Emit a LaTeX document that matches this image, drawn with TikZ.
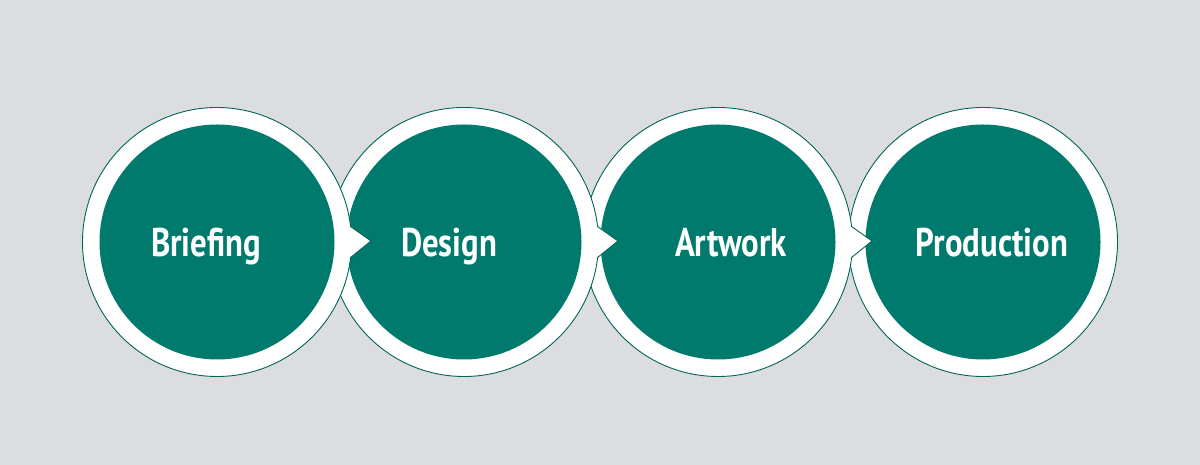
\documentclass[tikz,border=0pt]{standalone}
\usepackage{fontspec}
\usetikzlibrary{calc}
\newfontfamily\lbl[FakeStretch=0.82]{PT Sans}
\definecolor{bg}{RGB}{220,221,223}
\definecolor{teal}{RGB}{0,122,108}
\definecolor{tealline}{RGB}{0,100,88}
\begin{document}
\begin{tikzpicture}[x=1pt,y=1pt,
  ring/.style={fill=white,draw=tealline,line width=0.9pt},
  disk/.style={circle,fill=teal,draw=none,minimum size=235pt,inner sep=0pt},
  lab/.style={text=white,font=\lbl\bfseries\fontsize{40}{44}\selectfont,anchor=base}]
\fill[bg] (0,0) rectangle (1200,465);
\useasboundingbox (0,0) rectangle (1200,465);
% circle 4 (last, no arrow)
\draw[ring] (983,223) circle[radius=134.5];
\node[disk] (c4) at (983,223) {};
% circles 3,2,1 with arrow, drawn right to left
\foreach \cx/\nm in {718/c3,464/c2,217/c1}{
  \draw[ring] (\cx,223) ++(6.6:134.5) -- (\cx+154,224)
     -- ($(\cx,223)+(-6.6:134.5)$) arc[start angle=-6.6,end angle=-353.4,radius=134.5] -- cycle;
  \node[disk] (\nm) at (\cx,223) {};
}
\node[lab] (t1) at (206,208) {Briefing};
\node[lab] (t2) at (449,208) {Design};
\node[lab] (t3) at (731,208) {Artwork};
\node[lab] (t4) at (992,208) {Production};
\end{tikzpicture}
\end{document}
